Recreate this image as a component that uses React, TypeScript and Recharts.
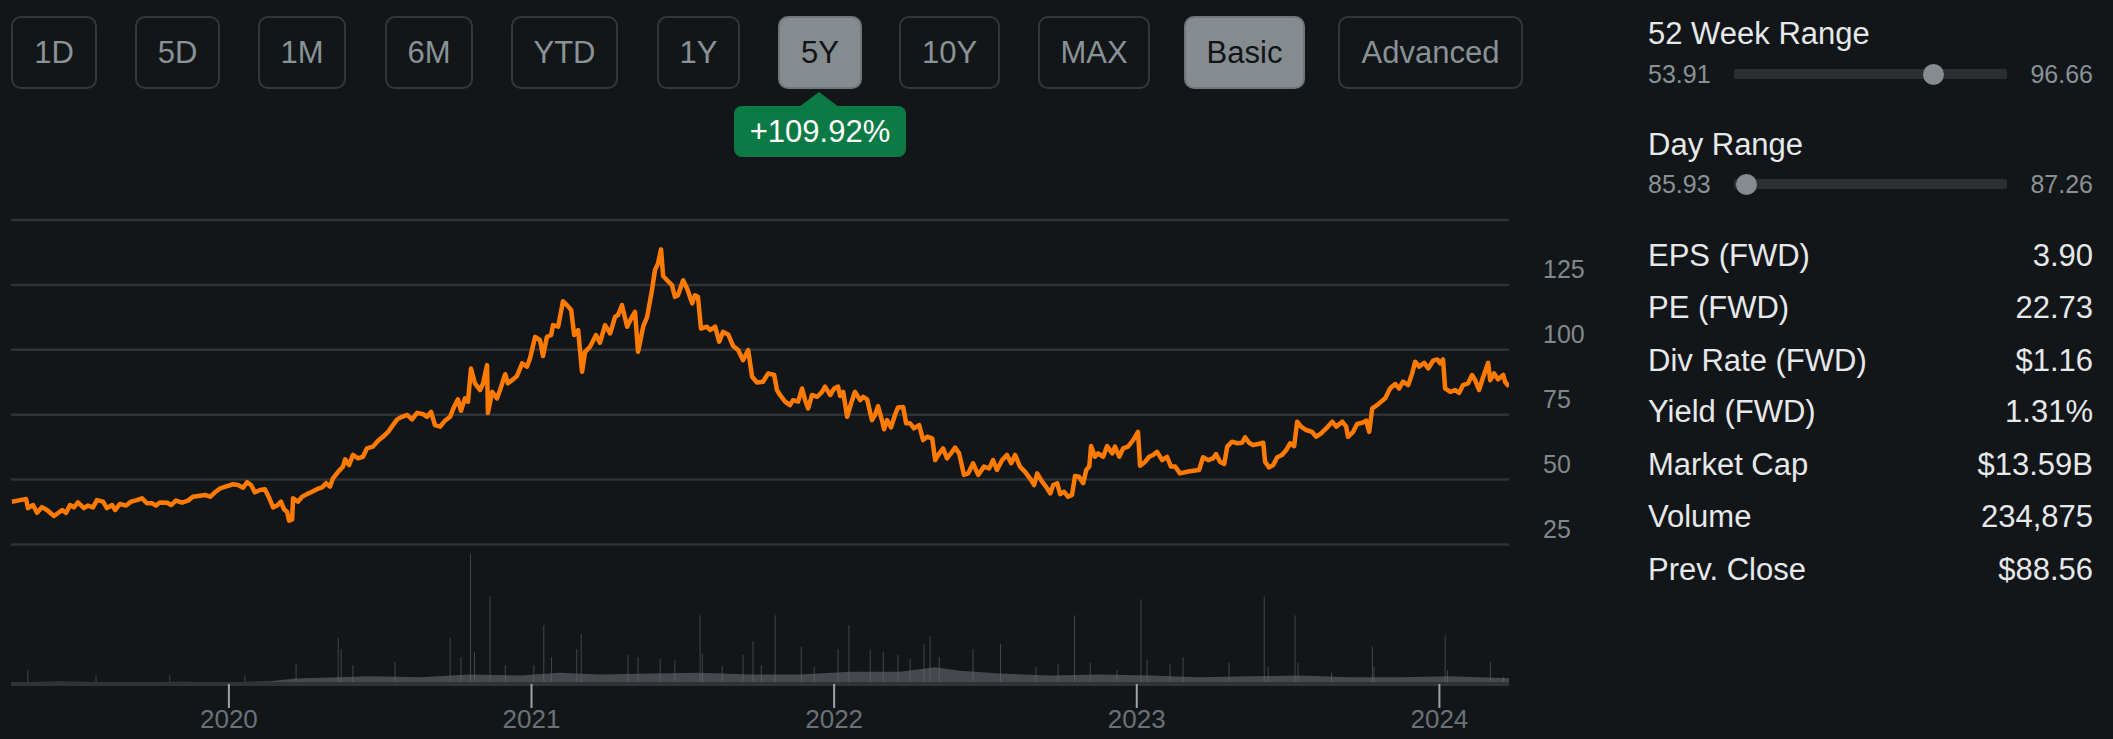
import { Area, Bar, CartesianGrid, ComposedChart, Line, LineChart, XAxis, YAxis } from 'recharts'

// price series, x as decimal year
const priceYears = [
  2019.283, 2019.31, 2019.33, 2019.336, 2019.353, 2019.366, 2019.382, 2019.399, 2019.422, 2019.449,
  2019.462, 2019.475, 2019.488, 2019.501, 2019.521, 2019.534, 2019.551, 2019.564, 2019.584, 2019.597,
  2019.614, 2019.624, 2019.64, 2019.66, 2019.677, 2019.696, 2019.713, 2019.729, 2019.746, 2019.759,
  2019.772, 2019.796, 2019.809, 2019.825, 2019.845, 2019.865, 2019.881, 2019.905, 2019.921, 2019.938,
  2019.954, 2019.971, 2019.994, 2020.014, 2020.03, 2020.047, 2020.06, 2020.073, 2020.086, 2020.103,
  2020.119, 2020.133, 2020.146, 2020.159, 2020.172, 2020.182, 2020.192, 2020.199, 2020.209, 2020.212,
  2020.228, 2020.242, 2020.258, 2020.275, 2020.291, 2020.308, 2020.321, 2020.334, 2020.344, 2020.361,
  2020.377, 2020.384, 2020.397, 2020.41, 2020.427, 2020.443, 2020.456, 2020.476, 2020.493, 2020.509,
  2020.526, 2020.542, 2020.556, 2020.572, 2020.589, 2020.605, 2020.622, 2020.642, 2020.655, 2020.668,
  2020.681, 2020.698, 2020.714, 2020.731, 2020.744, 2020.757, 2020.767, 2020.78, 2020.79, 2020.8,
  2020.813, 2020.83, 2020.84, 2020.853, 2020.856, 2020.87, 2020.886, 2020.896, 2020.913, 2020.922,
  2020.939, 2020.952, 2020.969, 2020.985, 2020.995, 2021.012, 2021.028, 2021.038, 2021.051, 2021.065,
  2021.071, 2021.088, 2021.104, 2021.117, 2021.131, 2021.141, 2021.154, 2021.167, 2021.177, 2021.193,
  2021.213, 2021.226, 2021.243, 2021.26, 2021.276, 2021.286, 2021.299, 2021.316, 2021.332, 2021.342,
  2021.352, 2021.369, 2021.382, 2021.398, 2021.408, 2021.418, 2021.428, 2021.435, 2021.448, 2021.464,
  2021.474, 2021.484, 2021.501, 2021.514, 2021.531, 2021.54, 2021.55, 2021.56, 2021.58, 2021.59,
  2021.607, 2021.62, 2021.633, 2021.65, 2021.666, 2021.683, 2021.699, 2021.716, 2021.729, 2021.745,
  2021.765, 2021.782, 2021.802, 2021.811, 2021.821, 2021.838, 2021.854, 2021.864, 2021.881, 2021.894,
  2021.904, 2021.914, 2021.927, 2021.944, 2021.96, 2021.97, 2021.987, 2022.0, 2022.013, 2022.02,
  2022.03, 2022.043, 2022.056, 2022.069, 2022.086, 2022.096, 2022.109, 2022.125, 2022.135, 2022.145,
  2022.158, 2022.165, 2022.175, 2022.188, 2022.201, 2022.211, 2022.228, 2022.238, 2022.251, 2022.264,
  2022.281, 2022.294, 2022.307, 2022.324, 2022.334, 2022.344, 2022.36, 2022.373, 2022.386, 2022.4,
  2022.413, 2022.429, 2022.443, 2022.459, 2022.476, 2022.495, 2022.512, 2022.525, 2022.538, 2022.555,
  2022.571, 2022.585, 2022.598, 2022.614, 2022.631, 2022.647, 2022.661, 2022.671, 2022.687, 2022.7,
  2022.714, 2022.724, 2022.737, 2022.747, 2022.76, 2022.773, 2022.786, 2022.796, 2022.809, 2022.823,
  2022.833, 2022.843, 2022.849, 2022.862, 2022.872, 2022.889, 2022.902, 2022.919, 2022.928, 2022.942,
  2022.955, 2022.971, 2022.988, 2023.004, 2023.011, 2023.028, 2023.041, 2023.054, 2023.067, 2023.084,
  2023.1, 2023.113, 2023.127, 2023.143, 2023.166, 2023.186, 2023.206, 2023.219, 2023.236, 2023.252,
  2023.262, 2023.275, 2023.289, 2023.299, 2023.315, 2023.332, 2023.348, 2023.358, 2023.371, 2023.384,
  2023.401, 2023.418, 2023.424, 2023.437, 2023.451, 2023.464, 2023.48, 2023.494, 2023.507, 2023.52,
  2023.53, 2023.543, 2023.56, 2023.579, 2023.593, 2023.609, 2023.626, 2023.646, 2023.659, 2023.679,
  2023.692, 2023.698, 2023.715, 2023.728, 2023.745, 2023.758, 2023.768, 2023.778, 2023.794, 2023.807,
  2023.821, 2023.837, 2023.854, 2023.867, 2023.88, 2023.897, 2023.91, 2023.92, 2023.933, 2023.95,
  2023.963, 2023.979, 2023.993, 2024.002, 2024.012, 2024.019, 2024.036, 2024.052, 2024.065, 2024.078,
  2024.095, 2024.108, 2024.118, 2024.131, 2024.145, 2024.161, 2024.168, 2024.181, 2024.194, 2024.211,
  2024.217, 2024.23,
]

const prices = [
  41.5, 42.1, 42.5, 39.0, 40.2, 37.2, 39.4, 38.3, 36.0, 38.3,
  37.2, 40.2, 39.3, 41.2, 39.0, 40.0, 39.3, 42.1, 41.5, 39.0,
  40.2, 38.3, 40.6, 40.0, 41.5, 42.1, 42.8, 40.9, 40.9, 40.0,
  41.2, 41.1, 40.2, 41.9, 41.1, 41.9, 43.4, 43.8, 44.1, 43.4,
  45.1, 46.6, 47.5, 48.2, 47.9, 46.9, 49.0, 47.9, 45.1, 46.0,
  46.3, 43.0, 39.3, 40.0, 41.5, 38.6, 37.6, 34.2, 34.7, 42.8,
  41.5, 43.4, 44.4, 45.3, 46.3, 47.0, 48.6, 47.3, 50.5, 53.0,
  55.0, 57.8, 55.6, 59.5, 58.2, 58.8, 62.0, 62.7, 65.0, 66.5,
  68.4, 71.0, 73.2, 74.2, 74.9, 73.2, 75.7, 75.2, 74.2, 76.1,
  71.0, 70.4, 72.7, 74.2, 78.0, 80.9, 76.5, 81.3, 80.0, 92.8,
  87.1, 84.5, 87.1, 94.1, 75.7, 83.8, 81.3, 84.5, 90.6, 87.1,
  88.6, 89.9, 94.8, 93.5, 96.7, 105.0, 103.7, 97.6, 105.0, 105.7,
  109.5, 108.9, 118.7, 117.2, 115.3, 105.7, 107.6, 91.5, 99.2, 101.1,
  105.7, 102.7, 109.5, 106.3, 112.7, 113.4, 117.2, 108.9, 112.7, 114.6,
  99.2, 108.9, 112.7, 123.0, 130.7, 133.3, 138.7, 128.4, 126.8, 124.9,
  120.4, 121.0, 126.8, 123.6, 117.9, 121.0, 120.4, 108.2, 108.9, 107.6,
  108.9, 103.1, 106.9, 105.9, 101.5, 99.9, 96.0, 99.9, 89.6, 87.4,
  87.7, 90.9, 90.3, 84.5, 82.6, 80.0, 78.7, 80.6, 80.0, 85.1,
  80.6, 77.4, 82.6, 81.9, 83.8, 85.8, 82.6, 85.1, 85.8, 82.2,
  83.8, 74.2, 79.4, 83.8, 80.6, 81.9, 80.9, 72.9, 74.9, 78.3,
  72.9, 69.4, 72.9, 70.1, 74.9, 77.8, 78.0, 71.7, 71.7, 69.7,
  71.0, 65.2, 66.5, 65.9, 57.5, 59.5, 62.0, 58.2, 60.1, 62.3,
  60.1, 51.8, 52.4, 56.3, 51.8, 55.0, 54.3, 57.5, 53.7, 57.5,
  59.5, 56.3, 59.5, 55.0, 53.0, 50.5, 47.9, 52.4, 49.2, 47.3,
  44.7, 47.9, 48.6, 44.4, 45.3, 43.4, 44.1, 51.4, 51.1, 48.6,
  53.7, 55.0, 62.9, 58.8, 60.1, 58.8, 62.9, 60.1, 62.7, 58.8,
  62.0, 62.7, 65.2, 68.4, 55.3, 56.9, 58.8, 59.5, 60.7, 57.5,
  58.8, 55.0, 55.0, 52.4, 53.0, 53.4, 53.7, 58.6, 57.5, 58.2,
  59.8, 56.9, 56.0, 62.7, 64.6, 64.0, 64.2, 66.3, 64.2, 63.3,
  63.7, 64.2, 56.9, 54.7, 55.6, 58.6, 59.5, 61.4, 64.0, 62.9,
  72.3, 70.4, 69.1, 68.4, 66.5, 67.8, 69.7, 72.3, 70.4, 72.3,
  70.4, 66.5, 68.4, 71.4, 71.9, 72.7, 68.4, 77.4, 78.7, 80.0,
  81.3, 85.1, 86.8, 85.1, 87.7, 86.4, 90.9, 95.4, 93.5, 95.0,
  92.8, 95.8, 96.3, 94.8, 96.3, 85.1, 83.8, 84.5, 83.4, 86.4,
  87.1, 90.3, 88.3, 84.5, 89.6, 95.0, 88.3, 90.9, 88.6, 90.3,
  87.7, 85.8,
]

// volume (thousands): the dense base level, then the tall single-day spikes
const volumeBaseYears = [
  2019.28, 2019.442, 2019.64, 2019.838, 2020.004, 2020.136, 2020.219, 2020.334, 2020.466, 2020.632,
  2020.797, 2020.962, 2021.094, 2021.226, 2021.392, 2021.557, 2021.722, 2021.887, 2022.053, 2022.218,
  2022.334, 2022.416, 2022.548, 2022.714, 2022.879, 2023.044, 2023.209, 2023.375, 2023.54, 2023.705,
  2023.87, 2024.035, 2024.23,
]
const volumeBase = [
  40, 55, 40, 50, 40, 60, 120, 140, 165, 145,
  205, 185, 245, 205, 225, 245, 205, 205, 265, 265,
  360, 285, 225, 185, 205, 185, 145, 165, 185, 145,
  145, 165, 125,
]
const volumeSpikeYears = [
  2019.336, 2019.561, 2019.805, 2020.053, 2020.222, 2020.361, 2020.371, 2020.41, 2020.549, 2020.731,
  2020.767, 2020.799, 2020.812, 2020.863, 2020.913, 2021.008, 2021.041, 2021.067, 2021.15, 2021.164,
  2021.319, 2021.352, 2021.425, 2021.474, 2021.557, 2021.564, 2021.63, 2021.699, 2021.732, 2021.759,
  2021.805, 2021.891, 2021.934, 2022.013, 2022.049, 2022.119, 2022.162, 2022.211, 2022.251, 2022.297,
  2022.317, 2022.347, 2022.459, 2022.55, 2022.667, 2022.74, 2022.795, 2022.846, 2022.935, 2023.014,
  2023.034, 2023.11, 2023.153, 2023.305, 2023.421, 2023.434, 2023.523, 2023.533, 2023.644, 2023.778,
  2023.784, 2024.019, 2024.026, 2024.168, 2024.211,
]
const volumeSpikes = [
  296, 188, 188, 188, 425, 993, 755, 404, 475, 993,
  583, 2812, 691, 1893, 404, 404, 1267, 583, 755, 1085,
  626, 583, 540, 518, 1483, 647, 382, 626, 928, 404,
  1483, 798, 367, 755, 1267, 740, 691, 626, 540, 857,
  1029, 583, 755, 870, 367, 425, 1483, 460, 296, 1828,
  524, 425, 583, 460, 1893, 367, 1483, 460, 244, 814,
  367, 1051, 296, 475, 151,
]

const yearTicks = [2020, 2021, 2022, 2023, 2024]
const priceTicks = [25, 50, 75, 100, 125, 150]
const rangeButtons = ['1D', '5D', '1M', '6M', 'YTD', '1Y', '5Y', '10Y', 'MAX', 'Basic', 'Advanced']
const activeButtons = ['5Y', 'Basic']
const changeLabel = '+109.92%'
const weekRange = { low: 53.91, high: 96.66, current: 86.0 }
const dayRange = { low: 85.93, high: 87.26, current: 85.94 }
const statLabels = ['EPS (FWD)', 'PE (FWD)', 'Div Rate (FWD)', 'Yield (FWD)', 'Market Cap', 'Volume', 'Prev. Close']
const statValues = ['3.90', '22.73', '$1.16', '1.31%', '$13.59B', '234,875', '$88.56']

const X_DOMAIN: [number, number] = [2019.28, 2024.23]
const BG = '#121619'
const FONT = '"Liberation Sans", Arial, sans-serif'

const priceData = priceYears.map((t, i) => ({ t, price: prices[i] }))
const volumeData = [
  ...volumeBaseYears.map((t, i) => ({ t, base: volumeBase[i] as number | undefined, spike: undefined as number | undefined })),
  ...volumeSpikeYears.map((t, i) => ({ t, base: undefined as number | undefined, spike: volumeSpikes[i] as number | undefined })),
].sort((a, b) => a.t - b.t)

// button boxes measured off the layout (left, width)
const buttonBoxes: [number, number][] = [
  [11, 86], [135, 85], [258, 88], [385, 88], [511, 107], [657, 83],
  [778, 84], [899, 101], [1038, 112], [1184, 121], [1338, 185],
]

function PriceTick(props: any) {
  const { y, payload } = props
  if (payload.value === 150) return <g />
  return (
    <text x={1543} y={y - 16} fill="#81888c" fontSize={25} fontFamily={FONT} dominantBaseline="central">
      {payload.value}
    </text>
  )
}

function RangeSlider({ top, range }: { top: number; range: { low: number; high: number; current: number } }) {
  const trackLeft = 1734
  const trackWidth = 273
  const thumb = 21
  const frac = (range.current - range.low) / (range.high - range.low)
  return (
    <>
      <div style={{ position: 'absolute', left: 1648, top: top - 12.5, fontSize: 25, lineHeight: '25px', color: '#8a9195' }}>
        {range.low.toFixed(2)}
      </div>
      <div
        style={{
          position: 'absolute', left: trackLeft, top: top - 5, width: trackWidth, height: 10,
          background: '#2b2f32', borderRadius: 2,
        }}
      />
      <div
        style={{
          position: 'absolute', left: trackLeft + frac * (trackWidth - thumb), top: top - thumb / 2,
          width: thumb, height: thumb, borderRadius: '50%', background: '#858c8f',
        }}
      />
      <div style={{ position: 'absolute', right: 20, top: top - 12.5, fontSize: 25, lineHeight: '25px', color: '#8a9195' }}>
        {range.high.toFixed(2)}
      </div>
    </>
  )
}

export default function App() {
  const statCenters = [255, 307, 360, 411, 464, 516, 569]
  return (
    <div style={{ position: 'relative', width: 2113, height: 739, background: BG, overflow: 'hidden', fontFamily: FONT }}>
      <style>{`body{margin:0;background:${BG};}`}</style>

      {rangeButtons.map((label, i) => {
        const active = activeButtons.includes(label)
        const [left, width] = buttonBoxes[i]
        return (
          <div
            key={label}
            style={{
              position: 'absolute', left, top: 16, width, height: 73, boxSizing: 'border-box',
              border: `2px solid ${active ? '#6f7679' : '#33373a'}`, borderRadius: 10,
              background: active ? '#858c8f' : 'transparent', color: active ? '#111416' : '#8a9296',
              fontSize: 31, display: 'flex', alignItems: 'center', justifyContent: 'center',
            }}
          >
            {label}
          </div>
        )
      })}

      <div
        style={{
          position: 'absolute', left: 799, top: 92, width: 0, height: 0,
          borderLeft: '20px solid transparent', borderRight: '20px solid transparent', borderBottom: '15px solid #0c7a45',
        }}
      />
      <div
        style={{
          position: 'absolute', left: 734, top: 106, width: 172, height: 51, borderRadius: 8, background: '#0c7a45',
          color: '#ffffff', fontSize: 31, display: 'flex', alignItems: 'center', justifyContent: 'center',
        }}
      >
        {changeLabel}
      </div>

      <div style={{ position: 'absolute', left: 0, top: 0 }}>
        <LineChart width={1620} height={560} data={priceData} margin={{ top: 220, right: 11, left: 11, bottom: 15.5 }}>
          <CartesianGrid horizontal vertical={false} stroke="#2f3336" strokeWidth={2.5} />
          <XAxis dataKey="t" type="number" domain={X_DOMAIN} allowDataOverflow hide />
          <YAxis
            orientation="right"
            domain={[25, 150]}
            ticks={priceTicks}
            width={100}
            axisLine={false}
            tickLine={false}
            tick={<PriceTick />}
            allowDataOverflow
          />
          <Line
            type="linear"
            dataKey="price"
            stroke="#ff7a00"
            strokeWidth={4.5}
            strokeLinejoin="round"
            dot={false}
            isAnimationActive={false}
          />
        </LineChart>
      </div>

      <div style={{ position: 'absolute', left: 0, top: 535 }}>
        <ComposedChart width={1520} height={204} data={volumeData} margin={{ top: 10, right: 11, left: 11, bottom: 0 }}>
          <XAxis
            dataKey="t"
            type="number"
            domain={X_DOMAIN}
            ticks={yearTicks}
            allowDataOverflow
            height={55}
            axisLine={{ stroke: '#2f3336', strokeWidth: 4 }}
            tickLine={{ stroke: '#9ea3a7', strokeWidth: 2 }}
            tickSize={24}
            tickMargin={2}
            tick={{ fill: '#6b7176', fontSize: 26, fontFamily: FONT }}
          />
          <YAxis hide domain={[0, 3000]} />
          <Area
            type="linear"
            dataKey="base"
            stroke="none"
            fill="#45494d"
            fillOpacity={1}
            connectNulls
            isAnimationActive={false}
          />
          <Bar dataKey="spike" fill="#686e72" barSize={2} isAnimationActive={false} />
        </ComposedChart>
      </div>

      <div style={{ position: 'absolute', left: 1648, top: 18, fontSize: 31, lineHeight: '31px', color: '#e6e8ea' }}>
        52 Week Range
      </div>
      <RangeSlider top={74} range={weekRange} />
      <div style={{ position: 'absolute', left: 1648, top: 128.5, fontSize: 31, lineHeight: '31px', color: '#e6e8ea' }}>
        Day Range
      </div>
      <RangeSlider top={184} range={dayRange} />

      {statLabels.map((label, i) => (
        <div key={label}>
          <div
            style={{
              position: 'absolute', left: 1648, top: statCenters[i] - 15.5, fontSize: 31, lineHeight: '31px', color: '#e6e8ea',
            }}
          >
            {label}
          </div>
          <div
            style={{
              position: 'absolute', right: 20, top: statCenters[i] - 15.5, fontSize: 31, lineHeight: '31px', color: '#e6e8ea',
            }}
          >
            {statValues[i]}
          </div>
        </div>
      ))}
    </div>
  )
}
